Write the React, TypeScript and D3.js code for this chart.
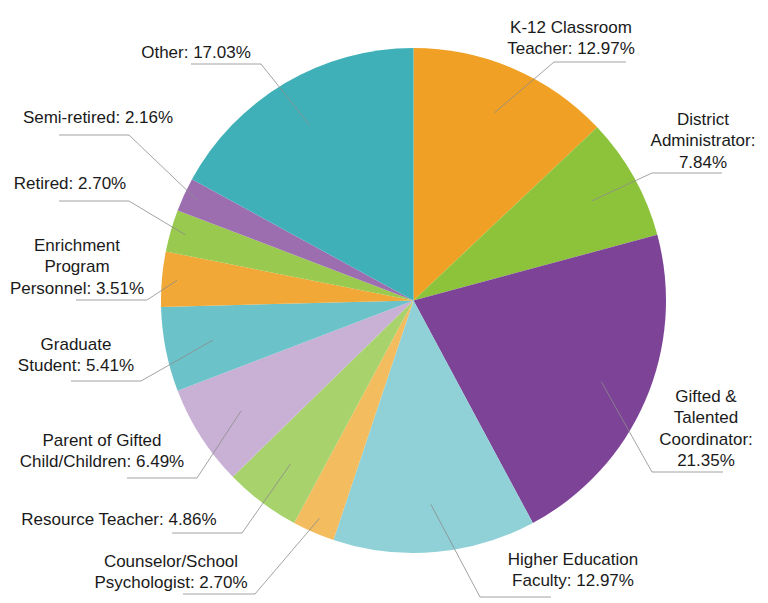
import React from "react";
import * as d3 from "d3";

const categories = [
  "K-12 Classroom Teacher",
  "District Administrator",
  "Gifted & Talented Coordinator",
  "Higher Education Faculty",
  "Counselor/School Psychologist",
  "Resource Teacher",
  "Parent of Gifted Child/Children",
  "Graduate Student",
  "Enrichment Program Personnel",
  "Retired",
  "Semi-retired",
  "Other",
];
const values = [12.97, 7.84, 21.35, 12.97, 2.7, 4.86, 6.49, 5.41, 3.51, 2.7, 2.16, 17.03];
const labelLines = [
  ["K-12 Classroom", "Teacher: 12.97%"],
  ["District", "Administrator:", "7.84%"],
  ["Gifted &", "Talented", "Coordinator:", "21.35%"],
  ["Higher Education", "Faculty: 12.97%"],
  ["Counselor/School", "Psychologist: 2.70%"],
  ["Resource Teacher: 4.86%"],
  ["Parent of Gifted", "Child/Children: 6.49%"],
  ["Graduate", "Student: 5.41%"],
  ["Enrichment", "Program", "Personnel: 3.51%"],
  ["Retired: 2.70%"],
  ["Semi-retired: 2.16%"],
  ["Other: 17.03%"],
];
const colors = [
  "#F0A024", "#8DC33B", "#7D4397", "#8FD1D7", "#F3BC5F", "#A8D26C",
  "#C9B1D5", "#6BC2C9", "#F1A836", "#99C94F", "#9C6EB0", "#3FB0B8",
];

// label layout: text center x, first line center y, underline x1, x2, y
const labelLayout = [
  { cx: 571, y0: 27, u: [554, 626, 62] },
  { cx: 703, y0: 119, u: [652, 722, 173] },
  { cx: 706, y0: 396, u: [652, 723, 472] },
  { cx: 573, y0: 559, u: [480, 551, 597] },
  { cx: 171, y0: 561, u: [183, 255, 594] },
  { cx: 119, y0: 519, u: [172, 242, 533] },
  { cx: 102, y0: 440, u: [127, 197, 478] },
  { cx: 76, y0: 344, u: [71, 141, 381] },
  { cx: 77, y0: 245, u: [76, 147, 300] },
  { cx: 70, y0: 183, u: [59, 129, 201] },
  { cx: 98, y0: 117, u: [59, 129, 135] },
  { cx: 196, y0: 52, u: [191, 261, 64] },
];

const W = 768;
const H = 603;
const CX = 413.5;
const CY = 300.5;
const R = 252.5;
const LINE_H = 21.3;

export default function App() {
  const pie = d3.pie<number>().sort(null).value((d) => d);
  const arcs = pie(values);
  const arc = d3.arc<d3.PieArcDatum<number>>().innerRadius(0).outerRadius(R);

  return (
    <svg
      width={W}
      height={H}
      style={{ position: "absolute", left: 0, top: 0, background: "#fff" }}
      fontFamily="'Liberation Sans', Arial, sans-serif"
    >
      <g transform={`translate(${CX},${CY})`}>
        {arcs.map((a, i) => (
          <path key={i} d={arc(a) || ""} fill={colors[i]} />
        ))}
      </g>
      {arcs.map((a, i) => {
        const mid = (a.startAngle + a.endAngle) / 2;
        const frac = values[i] / 100;
        const rr = frac < 0.04 ? R * 0.94 : R * 0.81;
        const px = CX + rr * Math.sin(mid);
        const py = CY - rr * Math.cos(mid);
        const L = labelLayout[i];
        const [x1, x2, uy] = L.u;
        const ex = Math.abs(px - x1) < Math.abs(px - x2) ? x1 : x2;
        return (
          <g key={i}>
            <polyline
              points={`${px},${py} ${ex},${uy} ${ex === x1 ? x2 : x1},${uy}`}
              fill="none"
              stroke="#8c8c8c"
              strokeWidth={0.8}
            />
            <text
              textAnchor="middle"
              fontSize={17}
              fill="#1a1a1a"
            >
              {labelLines[i].map((ln, j) => (
                <tspan key={j} x={L.cx} y={L.y0 + j * LINE_H} dy="0.35em">
                  {ln}
                </tspan>
              ))}
            </text>
          </g>
        );
      })}
    </svg>
  );
}
